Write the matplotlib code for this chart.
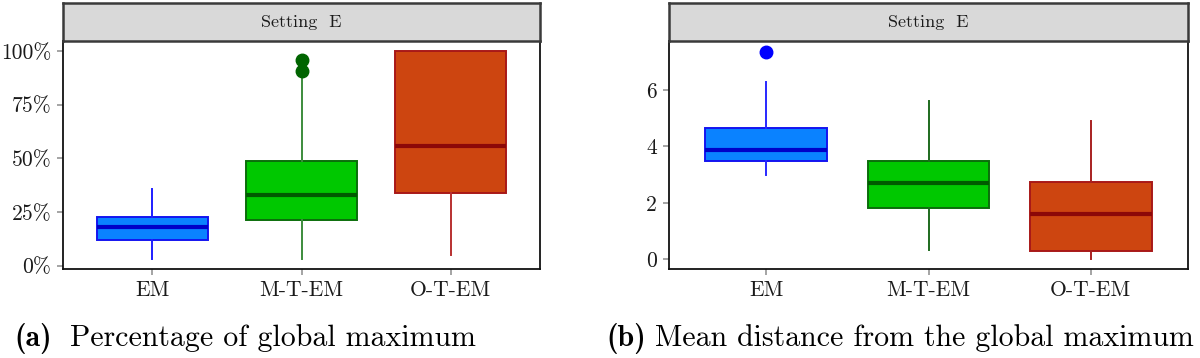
import matplotlib
matplotlib.use("Agg")
import matplotlib.pyplot as plt

plt.rcParams['font.family'] = ['cmr10', 'DejaVu Serif']
plt.rcParams['mathtext.fontset'] = 'cm'
plt.rcParams['axes.formatter.use_mathtext'] = True

# ---- data ----
categories = ["EM", "M-T-EM", "O-T-EM"]

# Panel (a): percentage of global maximum (%)
pct_whislo = [2.9, 2.9, 4.8]
pct_q1 = [11.8, 21.1, 33.7]
pct_med = [17.9, 32.8, 55.7]
pct_q3 = [22.5, 48.7, 100.0]
pct_whishi = [35.6, 87.9, 100.0]
pct_fliers = [[], [90.7, 95.8], []]
pct_ticks = [0, 25, 50, 75, 100]
pct_ticklabels = ["0%", "25%", "50%", "75%", "100%"]

# Panel (b): mean distance from the global maximum
dist_whislo = [3.0, 0.33, 0.0]
dist_q1 = [3.47, 1.81, 0.31]
dist_med = [3.88, 2.70, 1.62]
dist_q3 = [4.65, 3.47, 2.74]
dist_whishi = [6.27, 5.62, 4.90]
dist_fliers = [[7.36], [], []]
dist_ticks = [0, 2, 4, 6]

strip_title = "Setting  E"
caption_a = ("(a)", "Percentage of global maximum")
caption_b = ("(b)", "Mean distance from the global maximum")

fills = ["#0A82FF", "#00C800", "#CD4510"]
edges = ["#1414F0", "#0B6E0B", "#A81818"]
medians = ["#0000C8", "#005A00", "#8C0808"]
whisk_a = ["#1E1EFF", "#3C8C3C", "#B83030"]
whisk_b = ["#2828FF", "#1E6A1E", "#A82020"]
flier_c = ["#0000FF", "#006400", "#8B0000"]

W, H = 1200, 358
fig = plt.figure(figsize=(W / 100, H / 100), dpi=100)


def draw_panel(x0, x1, whislo, q1, med, q3, whishi, fliers, ylim, ticks, ticklabels, whisk):
    top, bot = 41, 269
    ax = fig.add_axes([x0 / W, (H - bot) / H, (x1 - x0) / W, (bot - top) / H])
    for i in range(len(categories)):
        stats = [dict(whislo=whislo[i], q1=q1[i], med=med[i], q3=q3[i],
                      whishi=whishi[i], fliers=fliers[i], label=categories[i])]
        ax.bxp(stats, positions=[i + 1], widths=0.75, patch_artist=True,
               showcaps=False, manage_ticks=False,
               boxprops=dict(facecolor=fills[i], edgecolor=edges[i], linewidth=1.4),
               medianprops=dict(color=medians[i], linewidth=3.0, solid_capstyle='butt'),
               whiskerprops=dict(color=whisk[i], linewidth=1.4),
               flierprops=dict(marker='o', markersize=9, markerfacecolor=flier_c[i],
                               markeredgecolor=flier_c[i]))
    ax.set_xlim(0.4, 3.6)
    ax.set_ylim(*ylim)
    ax.set_xticks([1, 2, 3])
    ax.set_xticklabels(categories)
    ax.set_yticks(ticks)
    ax.set_yticklabels(ticklabels)
    ax.tick_params(axis='both', length=4.5, width=1.1, color='#8C8C8C',
                   labelsize=15.5, labelcolor='#1A1A1A')
    ax.tick_params(axis='x', pad=4)
    ax.tick_params(axis='y', pad=4)
    for s in ax.spines.values():
        s.set_linewidth(1.3)
        s.set_color('#111111')
    # facet strip
    sx = fig.add_axes([x0 / W, (H - top) / H, (x1 - x0) / W, (top - 3) / H])
    sx.set_xticks([])
    sx.set_yticks([])
    sx.set_facecolor('#D9D9D9')
    for s in sx.spines.values():
        s.set_linewidth(1.8)
        s.set_color('#3A3A3A')
    sx.text(0.5, 0.48, strip_title, ha='center', va='center', fontsize=13,
            color='#1A1A1A', transform=sx.transAxes)
    return ax


draw_panel(63, 540, pct_whislo, pct_q1, pct_med, pct_q3, pct_whishi, pct_fliers,
           (-1.6, 104.8), pct_ticks, pct_ticklabels, whisk_a)
draw_panel(669, 1188, dist_whislo, dist_q1, dist_med, dist_q3, dist_whishi, dist_fliers,
           (-0.344, 7.74), dist_ticks, [str(t) for t in dist_ticks], whisk_b)

base_y = (H - 346) / H
fs = 21.5
fig.text(14 / W, base_y, caption_a[0], family='cmb10', fontsize=fs, va='baseline', ha='left')
fig.text(70 / W, base_y, caption_a[1], fontsize=fs, va='baseline', ha='left')
fig.text(606 / W, base_y, caption_b[0], family='cmb10', fontsize=fs, va='baseline', ha='left')
fig.text(655 / W, base_y, caption_b[1], fontsize=fs, va='baseline', ha='left')

fig.savefig("out.png", dpi=100, facecolor='white')
